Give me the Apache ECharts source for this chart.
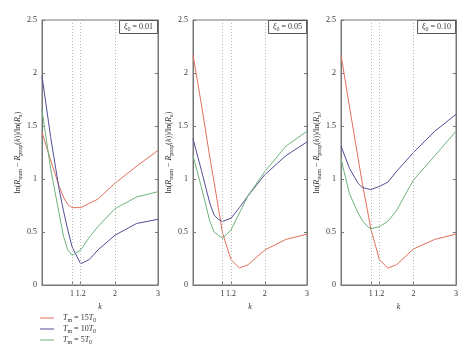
<!DOCTYPE html>
<html>
<head>
<meta charset="utf-8">
<script src="https://cdn.jsdelivr.net/npm/echarts@6/dist/echarts.min.js"></script>
<style>html,body{margin:0;padding:0;background:#fff}#c{width:474px;height:361px}</style>
</head>
<body>
<div id="c"></div>
<script>
const kValues = [0.3, 0.5, 0.7, 0.8, 0.9, 1.0, 1.2, 1.4, 1.6, 2.0, 2.5, 3.0];

const red1   = [1.44, 1.18, 0.93, 0.83, 0.76, 0.73, 0.73, 0.77, 0.81, 0.96, 1.12, 1.27];
const blue1  = [1.97, 1.40, 0.90, 0.70, 0.52, 0.36, 0.20, 0.24, 0.33, 0.47, 0.58, 0.62];
const green1 = [1.65, 1.10, 0.67, 0.46, 0.33, 0.28, 0.33, 0.45, 0.55, 0.72, 0.83, 0.88];

const red2   = [2.17, 1.70, 1.20, 0.97, 0.73, 0.49, 0.24, 0.16, 0.19, 0.33, 0.43, 0.48];
const blue2  = [1.38, 1.08, 0.77, 0.66, 0.62, 0.60, 0.63, 0.73, 0.84, 1.04, 1.22, 1.35];
const green2 = [1.22, 0.92, 0.60, 0.50, 0.47, 0.44, 0.52, 0.68, 0.84, 1.07, 1.31, 1.45];

const red3   = [2.17, 1.68, 1.20, 0.96, 0.75, 0.53, 0.24, 0.16, 0.19, 0.34, 0.43, 0.48];
const blue3  = [1.31, 1.10, 0.96, 0.92, 0.91, 0.90, 0.93, 0.97, 1.07, 1.25, 1.45, 1.61];
const green3 = [1.19, 0.86, 0.68, 0.61, 0.56, 0.53, 0.55, 0.60, 0.70, 0.99, 1.22, 1.45];

const xTickLabels = [1, 1.2, 2, 3];
const refLines = [1, 1.2, 2];
const panelLabels = ['0.01', '0.05', '0.10'];
const seriesNames = ['Tm = 15T0', 'Tm = 10T0', 'Tm = 5T0'];
const seriesRich = ['{i|T}{s|m}{n| = 15}{i|T}{s|0}', '{i|T}{s|m}{n| = 10}{i|T}{s|0}', '{i|T}{s|m}{n| = 5}{i|T}{s|0}'];
const colors = ['#e2705c', '#4f4f98', '#6fb27a'];

const panels = [
  [red1, blue1, green1],
  [red2, blue2, green2],
  [red3, blue3, green3]
];

const FONT = 'Liberation Serif';
const gridsPos = [
  {left: 42, width: 116},
  {left: 193, width: 114},
  {left: 341, width: 115}
];

const rich = {
  i: {fontStyle: 'italic', fontWeight: 'normal', fontFamily: FONT, fontSize: 8, color: '#333', lineHeight: 10},
  s: {fontFamily: FONT, fontWeight: 'normal', fontSize: 6, color: '#333', padding: [4, 0, 0, 0], lineHeight: 10},
  n: {fontFamily: FONT, fontWeight: 'normal', fontSize: 8, color: '#333', lineHeight: 10}
};

const grid = [], xAxis = [], yAxis = [], series = [], title = [];
gridsPos.forEach((g, p) => {
  grid.push({left: g.left, width: g.width, top: 20, height: 265, show: true,
    borderColor: '#777', borderWidth: 1, backgroundColor: 'transparent'});
  xAxis.push({type: 'value', gridIndex: p, min: 0.3, max: 3,
    name: 'k', nameLocation: 'middle', nameGap: 17,
    nameTextStyle: {fontFamily: FONT, fontStyle: 'italic', fontSize: 8, color: '#333'},
    axisLine: {lineStyle: {color: '#777'}},
    axisTick: {show: true, inside: true, length: 3, customValues: xTickLabels, lineStyle: {color: '#777'}},
    axisLabel: {customValues: xTickLabels, fontFamily: FONT, fontSize: 8, color: '#333', margin: 5},
    splitLine: {show: false}
  });
  yAxis.push({type: 'value', gridIndex: p, min: 0, max: 2.5, interval: 0.5,
    name: '{n|ln(}{i|R}{s|num}{n| − }{i|R}{s|prop}{n|(}{i|k}{n|))/ln(}{i|R}{s|x}{n|)}',
    nameLocation: 'middle', nameGap: 13, nameRotate: 90,
    nameTextStyle: {rich: rich},
    axisLine: {show: true, lineStyle: {color: '#777'}},
    axisTick: {show: true, inside: true, length: 3, lineStyle: {color: '#777'}},
    axisLabel: {fontFamily: FONT, fontSize: 8, color: '#333', margin: 5},
    splitLine: {show: false}
  });
  yAxis.push({type: 'value', gridIndex: p, min: 0, max: 2.5, interval: 0.5, position: 'right',
    axisLine: {show: true, lineStyle: {color: '#777'}},
    axisTick: {show: true, inside: true, length: 3, lineStyle: {color: '#777'}},
    axisLabel: {show: false}, splitLine: {show: false}
  });
  panels[p].forEach((vals, s) => {
    const ser = {
      type: 'line', name: seriesNames[s], xAxisIndex: p, yAxisIndex: 2 * p,
      data: kValues.map((k, j) => [k, vals[j]]),
      symbol: 'none', smooth: false, silent: true,
      lineStyle: {color: colors[s], width: 1}, itemStyle: {color: colors[s]}
    };
    if (s === 0) {
      ser.markLine = {silent: true, symbol: 'none', label: {show: false},
        lineStyle: {type: [1, 2], color: '#b5b5b5', width: 1},
        data: refLines.map(v => ({xAxis: v}))};
    }
    series.push(ser);
  });
  title.push({
    text: '{i|ξ}{s|0}{n| = ' + panelLabels[p] + '}',
    right: 474 - (g.left + g.width), top: 20,
    padding: [2, 5, 2, 5], borderColor: '#555', borderWidth: 1,
    textStyle: {rich: rich, fontWeight: 'normal'}
  });
});

const chart = echarts.init(document.getElementById('c'), null, {renderer: 'canvas'});
chart.setOption({
  animation: false,
  backgroundColor: '#fff',
  color: colors,
  title: title,
  grid: grid,
  xAxis: xAxis,
  yAxis: yAxis,
  legend: {
    orient: 'vertical', left: 40, top: 313, height: 45, padding: 0,
    itemWidth: 14, itemHeight: 1, itemGap: 1, icon: 'rect',
    data: seriesNames,
    formatter: name => seriesRich[seriesNames.indexOf(name)],
    textStyle: {rich: rich, padding: [0, 0, 0, 4]}
  },
  series: series
});
</script>
</body>
</html>
